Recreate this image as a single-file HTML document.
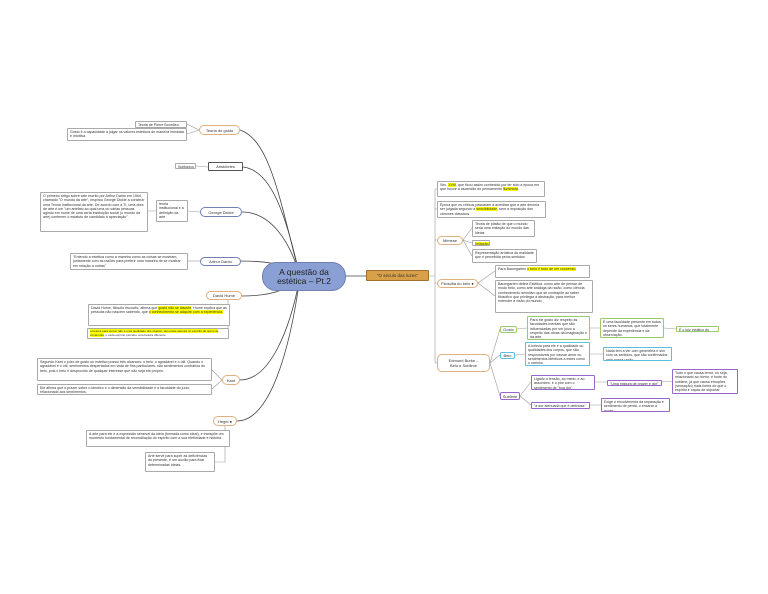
<!DOCTYPE html>
<html><head><meta charset="utf-8"><style>
body{margin:0;width:768px;height:594px;background:#fff;position:relative;overflow:hidden;font-family:"Liberation Sans",sans-serif}
.b{position:absolute;box-sizing:border-box;border:1px solid #aaa;background:#fff;font-size:3.6px;line-height:4.3px;padding:1px 2px;color:#333;border-radius:1px;overflow:hidden}
.n{position:absolute;box-sizing:border-box;border:1px solid #555;background:#fff;font-size:4px;border-radius:5px;text-align:center;color:#333;display:flex;align-items:center;justify-content:center}
.y{background:#ff0}
</style></head><body>
<svg width="768" height="594" style="position:absolute;left:0;top:0" fill="none" stroke="#444" stroke-width="0.8">
<path d="M300 277 C280 200,270 140,240 130"/>
<path d="M300 277 C285 210,270 170,243 167"/>
<path d="M300 277 C290 240,270 212,242 212"/>
<path d="M300 277 C290 265,270 261,241 261"/>
<path d="M300 277 C290 290,270 296,242 296"/>
<path d="M300 277 C290 330,270 380,240 380"/>
<path d="M300 277 C290 350,270 421,237 421"/>
<path d="M346 276 L366 276"/>
<g stroke="#999" stroke-width="0.6">
<path d="M199 130 L187 124 M199 130 L187 134"/>
<path d="M208 167 L196 166"/>
<path d="M200 212 L188 211 M156 211 L148 211"/>
<path d="M200 261 L188 261"/>
<path d="M228 300 L228 315 L230 315 M228 315 L228 333 L229 333"/>
<path d="M222 380 L212 370 M222 380 L212 389"/>
<path d="M225 426 L225 438 L230 438 M225 438 L225 462 L215 462"/>
<path d="M429 276 L435 276 M435 189 L435 363 M435 189 L437 189 M435 209 L437 209 M435 240 L437 240 M435 283 L437 283 M435 363 L437 363"/>
<path d="M463 240 L472 228 M463 240 L472 243 M463 240 L472 256"/>
<path d="M478 283 L495 271 M478 283 L495 296"/>
<path d="M490 363 L500 329 M490 363 L500 355 M490 363 L500 396"/>
<path d="M517 329 L527 328 M590 328 L600 328 M664 328 L676 329"/>
<path d="M515 355 L525 354 M590 354 L603 354"/>
<path d="M520 396 L531 382 M520 396 L531 405 M595 382 L607 382 M662 382 L672 381 M590 405 L601 405"/>
</g></svg>
<div class="n" style="left:262px;top:262px;width:84px;height:29px;background:#8a9fd4;border-radius:14px;border-color:#7080b0;font-size:8.5px;line-height:9px;color:#222">A questão da<br>estética – Pt.2</div>
<div class="n" style="left:366px;top:270px;width:63px;height:11px;background:#d8a048;border-radius:1px;border-color:#a07030;font-size:4.5px">"O século das luzes"</div>

<div class="n" style="left:199px;top:125px;width:41px;height:10px;border-color:#e0b080">Teoria do gosto</div>
<div class="b" style="left:135px;top:121px;width:52px;height:7px">Teoria de Pierre Bourdieu</div>
<div class="b" style="left:67px;top:128px;width:120px;height:13px">Gosto é a capacidade a julgar os valores estéticos de maneira imediata e intuitiva.</div>
<div class="n" style="left:208px;top:162px;width:35px;height:9px;border-radius:1px">Aristóteles</div>
<div class="b" style="left:175px;top:163px;width:21px;height:6px">Subtópico</div>
<div class="n" style="left:200px;top:207px;width:42px;height:10px;border-color:#7080b0">George Dickie</div>
<div class="b" style="left:156px;top:200px;width:32px;height:22px">teoria institucional e a definição da arte</div>
<div class="b" style="left:40px;top:192px;width:108px;height:40px">O primeiro artigo sobre arte escrito por Arthur Danto em 1964, chamado "O mundo da arte", inspirou George Dickie a construir uma Teoria Institucional da arte. De acordo com a TI, uma obra de arte é um "um artefato ao qual uma ou várias pessoas agindo em nome de uma certa instituição social (o mundo da arte) conferem o estatuto de candidato à apreciação".</div>
<div class="n" style="left:200px;top:257px;width:41px;height:9px;border-color:#7080b0">Arthur Danto</div>
<div class="b" style="left:70px;top:253px;width:118px;height:17px">"Entendo a estética como a maneira como as coisas se mostram, juntamente com as razões para preferir uma maneira de se mostrar em relação a outras"</div>
<div class="n" style="left:206px;top:291px;width:36px;height:9px;border-color:#e0b080">David Hume</div>
<div class="b" style="left:88px;top:304px;width:142px;height:22px">David Hume, filósofo escocês, afirma que <span class="y">gosto não se discute</span>. Hume explica que as pessoas não nascem sabendo, que <span class="y">o conhecimento se adquire com a experiência.</span></div>
<div class="b" style="left:87px;top:328px;width:142px;height:11px;font-size:3px;line-height:3.5px"><span class="y">a beleza para Hume não é uma qualidade dos objetos, ela existe apenas no espírito de quem as contempla</span>, e cada espírito percebe uma beleza diferente.</div>
<div class="n" style="left:222px;top:375px;width:18px;height:10px;border-color:#e0b080">Kant</div>
<div class="b" style="left:37px;top:358px;width:175px;height:23px">Segundo Kant o juízo de gosto ou estético possui três alcances: o belo, o agradável e o útil. Quando o agradável e o útil, sentimentos despertados em vista de fins particulares, são sentimentos contrários do belo, pois o belo é desprovido de qualquer interesse que não seja ele próprio.</div>
<div class="b" style="left:37px;top:384px;width:175px;height:11px">Ele afirma que o prazer sobre o identico e o dimensão da sensibilidade é a faculdade do juízo, relacionado aos sentimentos.</div>
<div class="n" style="left:213px;top:416px;width:24px;height:10px;border-color:#e0b080">Hegel ●</div>
<div class="b" style="left:86px;top:430px;width:144px;height:17px">A arte para ele é a expressão sensível da ideia (formada como ideal), e transpõe um momento fundamental de reconciliação do espírito com a sua efetividade e história.</div>
<div class="b" style="left:145px;top:452px;width:70px;height:20px">Arte serve para suprir as deficiências do presente, é um auxílio para fixar determinadas ideias.</div>

<div class="b" style="left:437px;top:181px;width:108px;height:16px">Séc. <span class="y">XVIII</span>, que ficou assim conhecido por ter sido a época em que houve a ascensão do pensamento <span class="y">iluminista</span>.</div>
<div class="b" style="left:437px;top:201px;width:109px;height:17px">Época que os críticos passaram a acreditar que a arte deveria ser julgada segundo a <span class="y">sensibilidade</span>, sem a imposição dos cânones clássicos.</div>
<div class="n" style="left:437px;top:236px;width:26px;height:9px;border-color:#e0b080">Mimese</div>
<div class="b" style="left:472px;top:220px;width:63px;height:17px">Teoria de platão de que o mundo seria uma imitação do mundo das ideias</div>
<div class="b" style="left:472px;top:240px;width:18px;height:6px"><span class="y">Imitação</span></div>
<div class="b" style="left:472px;top:249px;width:65px;height:14px">Representação artística da realidade que é percebida pelos sentidos</div>
<div class="n" style="left:437px;top:279px;width:41px;height:9px;border-color:#e0b080">Filosofia do belo ●</div>
<div class="b" style="left:495px;top:265px;width:95px;height:13px">Para Baumgarten <span class="y">o belo é fruto de um consenso</span></div>
<div class="b" style="left:495px;top:280px;width:98px;height:33px">Baumgarten define Estética, como arte de pensar de modo belo, como arte análoga da razão, como ciência conhecimento sensitivo que se contrapõe ao saber filosófico que privilegia a abstração, para melhor entender a visão do mundo.</div>
<div class="n" style="left:437px;top:354px;width:53px;height:18px;border-color:#e0b080;line-height:5px">Edmund Burke –<br>Belo e Sublime</div>
<div class="n" style="left:500px;top:326px;width:17px;height:7px;border-color:#9c6;border-radius:2px">Gosto</div>
<div class="b" style="left:527px;top:316px;width:63px;height:24px;border-color:#9c6">Para ele gosto diz respeito às faculdades mentais que são influenciadas por um juízo a respeito das obras da imaginação e da arte.</div>
<div class="b" style="left:600px;top:318px;width:64px;height:20px;border-color:#9c6">É uma faculdade presente em todos os seres humanos, que totalmente depende da experiência e da observação.</div>
<div class="b" style="left:676px;top:326px;width:43px;height:6px;border-color:#9c6">É o juiz intuitivo do belo.</div>
<div class="n" style="left:500px;top:352px;width:15px;height:7px;border-color:#5bc0e0;border-radius:2px">Belo</div>
<div class="b" style="left:525px;top:342px;width:65px;height:24px;border-color:#5bc0e0">A beleza para ele é a qualidade ou qualidades dos corpos, que são responsáveis por causar amor ou sentimentos idênticos a estes como o carinho.</div>
<div class="b" style="left:603px;top:347px;width:69px;height:14px;border-color:#5bc0e0">Nada tem a ver com geometria e sim com os sentidos, que são confirmados pela nossa razão.</div>
<div class="n" style="left:500px;top:392px;width:20px;height:8px;border-color:#96c;border-radius:2px">Sublime</div>
<div class="b" style="left:531px;top:375px;width:64px;height:15px;border-color:#96c">Ligado a tensão, ao medo, e ao assombro, é o pior com o sentimento de "boa dor".</div>
<div class="b" style="left:607px;top:380px;width:55px;height:6px;border-color:#96c">"Uma mistura de prazer e dor"</div>
<div class="b" style="left:672px;top:369px;width:66px;height:25px;border-color:#96c">Tudo o que causa terror, ou seja, relacionado ao horror, é fonte do sublime, já que causa emoções (sensação) mais fortes do que o espírito é capaz de suportar.</div>
<div class="b" style="left:531px;top:402px;width:59px;height:7px;border-color:#96c">"a dor atenuada que é deliciosa"</div>
<div class="b" style="left:601px;top:398px;width:69px;height:14px;border-color:#96c">Exige o envolvimento da separação e sentimento de perda, o encarar a morte.</div>
</body></html>
